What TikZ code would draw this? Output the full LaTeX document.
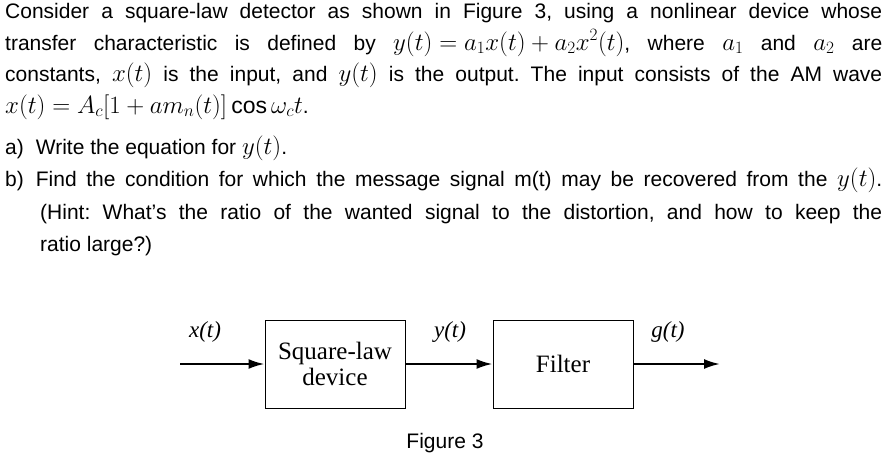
\documentclass[tikz,border=0pt]{standalone}
\usepackage{fontspec}
\usetikzlibrary{arrows.meta}
\setmainfont{Liberation Sans}
\newfontfamily\serifb{Liberation Serif}
\frenchspacing
\newcommand{\mm}[1]{\mbox{\fontsize{23}{24}\selectfont$#1$}}
\begin{document}
\begin{tikzpicture}[x=1pt,y=-1pt,
  ln/.style={anchor=base west,inner sep=0pt,font=\fontsize{21}{24}\selectfont},
  bx/.style={draw,line width=1pt,minimum width=140pt,minimum height=88pt,align=center,font=\serifb\fontsize{25}{26}\selectfont},
  lb/.style={font=\serifb\itshape\fontsize{23}{24}\selectfont},
  ar/.style={line width=2.2pt,-{Latex[length=16pt,width=10pt]}}]
\useasboundingbox (0,0) rectangle (887,461);
\node[ln] (l1) at (5,18) {\makebox[877pt][s]{Consider a square-law detector as shown in Figure 3, using a nonlinear device whose}};
\node[ln] (l2) at (5,50) {\makebox[877pt][s]{transfer characteristic is defined by \mm{y(t)=a_1x(t)+a_2x^2(t)}, where \mm{a_1} and \mm{a_2} are}};
\node[ln] (l3) at (5,81) {\makebox[877pt][s]{constants, \mm{x(t)} is the input, and \mm{y(t)} is the output. The input consists of the AM wave}};
\node[ln] (l4) at (5,113) {\mm{x(t)=A_c[1+am_n(t)]\cos\omega_c t}.};
\node[ln] (l5) at (5,154) {a)\hspace{12pt}Write the equation for \mm{y(t)}.};
\node[ln] (l6) at (5,186) {\makebox[877pt][s]{b)\hspace{12pt}Find the condition for which the message signal m(t) may be recovered from the \mm{y(t)}.}};
\node[ln] (l7) at (40,219) {\makebox[842pt][s]{(Hint: What's the ratio of the wanted signal to the distortion, and how to keep the}};
\node[ln] (l8) at (40,251) {ratio large?)};
\node[bx] (sq) at (335,364) {Square-law\\device};
\node[bx] (fi) at (563,364) {Filter};
\coordinate (in) at (180,364);
\coordinate (out) at (720,364);
\draw[ar] (in) -- (sq);
\draw[ar] (sq) -- (fi);
\draw[ar] (fi) -- (out);
\node[lb] (x) at (205,332) {x(t)};
\node[lb] (y) at (450,332) {y(t)};
\node[lb] (g) at (668,332) {g(t)};
\node[font=\fontsize{21}{24}\selectfont] (f) at (445,443) {Figure 3};
\end{tikzpicture}
\end{document}
